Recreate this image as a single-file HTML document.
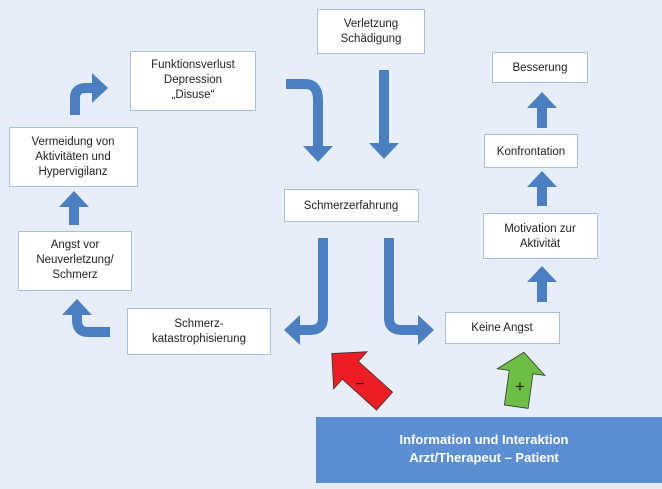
<!DOCTYPE html>
<html><head><meta charset="utf-8"><style>
body{margin:0;width:662px;height:489px;background:#e8eef8;overflow:hidden}
svg{position:absolute;left:0;top:0}
text{font-family:"Liberation Sans",sans-serif;font-size:11.5px;fill:#222;text-anchor:middle}
.b{fill:#fff;stroke:#a9bedc;stroke-width:1}
</style></head><body>
<svg width="662" height="489" viewBox="0 0 662 489">
<defs>
<marker id="h" markerWidth="3" markerHeight="3" refX="0.2" refY="1.5" orient="auto" markerUnits="strokeWidth"><path d="M0,0L1.6,1.5L0,3z" fill="#4a7fc1"/></marker>
</defs>
<g fill="none" stroke="#4a7fc1" stroke-width="10" marker-end="url(#h)">
<path d="M384,70V145"/>
<path d="M286,84H305Q318,84 318,100V148"/>
<path d="M323,238V318Q323,330 310,330H298"/>
<path d="M389,238V318Q389,330 402,330H420"/>
<path d="M74,225V205"/>
<path d="M542,128V106"/>
<path d="M542,206V185"/>
<path d="M542,302V280"/>
<path d="M75,115V98Q75,88 86,88H94"/>
<path d="M110,332H88Q77,332 77,320V313"/>
</g>
<g transform="translate(360,379) rotate(-48)">
<polygon points="0,-38 25,-13 12,-13 12,33 -12,33 -12,-13 -25,-13" fill="#ee1c24" stroke="#333" stroke-width="0.8"/>
<text x="0" y="10" transform="rotate(48)" style="font-size:16px">−</text>
</g>
<g transform="translate(520,380) rotate(8)">
<polygon points="0,-28 24,-8 12,-8 12,27 -12,27 -12,-8 -24,-8" fill="#6cbe45" stroke="#333" stroke-width="0.8"/>
<text x="0" y="12" transform="rotate(-8)" style="font-size:17px">+</text>
</g>
<rect class="b" x="317.5" y="9.5" width="107" height="44"/>
<text x="371" y="27">Verletzung</text><text x="371" y="42">Schädigung</text>
<rect class="b" x="130.5" y="51.5" width="125" height="59"/>
<text x="193" y="68">Funktionsverlust</text><text x="193" y="83">Depression</text><text x="193" y="98">„Disuse“</text>
<rect class="b" x="492.5" y="52.5" width="95" height="30"/>
<text x="540" y="71">Besserung</text>
<rect class="b" x="484.5" y="134.5" width="93" height="33"/>
<text x="531" y="155">Konfrontation</text>
<rect class="b" x="9.5" y="127.5" width="128" height="59"/>
<text x="73" y="145">Vermeidung von</text><text x="73" y="160">Aktivitäten und</text><text x="73" y="175">Hypervigilanz</text>
<rect class="b" x="284.5" y="189.5" width="134" height="32"/>
<text x="351" y="209">Schmerzerfahrung</text>
<rect class="b" x="483.5" y="213.5" width="114" height="45"/>
<text x="540" y="232">Motivation zur</text><text x="540" y="247">Aktivität</text>
<rect class="b" x="18.5" y="231.5" width="113" height="59"/>
<text x="75" y="248">Angst vor</text><text x="75" y="263">Neuverletzung/</text><text x="75" y="278">Schmerz</text>
<rect class="b" x="127.5" y="308.5" width="143" height="46"/>
<text x="199" y="327">Schmerz-</text><text x="199" y="342">katastrophisierung</text>
<rect class="b" x="445.5" y="312.5" width="114" height="31"/>
<text x="502" y="331">Keine Angst</text>
<rect x="316" y="417" width="346" height="66" fill="#5b8fd2"/>
<text x="484" y="444" style="fill:#fff;font-weight:bold;font-size:13px">Information und Interaktion</text>
<text x="484" y="462" style="fill:#fff;font-weight:bold;font-size:13px">Arzt/Therapeut – Patient</text>
</svg>
</body></html>
